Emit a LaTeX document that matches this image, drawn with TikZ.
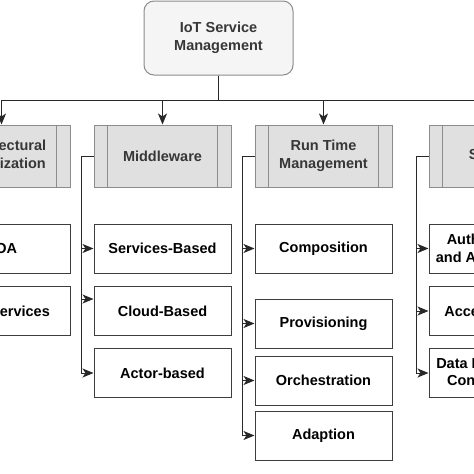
\documentclass[tikz,border=0pt]{standalone}
\usepackage{fontspec}
\setmainfont{Liberation Sans}
\usepackage{tikz}
\usetikzlibrary{arrows.meta, positioning}
\usepackage{xcolor}
\definecolor{rootgray}{RGB}{245,245,245}
\definecolor{catgray}{RGB}{224,224,224}
\definecolor{framegray}{RGB}{140,140,140}
\definecolor{textgray}{RGB}{55,55,55}
\definecolor{linegray}{RGB}{40,40,40}
\tikzset{rootnode/.style={rectangle, rounded corners=10pt, fill=rootgray, draw=framegray, line width=1pt, minimum width=149pt, minimum height=74pt, align=center, text=textgray, font=\fontsize{14.5}{17.5}\selectfont\bfseries},catnode/.style={rectangle, fill=catgray, draw=framegray, line width=1pt, minimum width=137pt, minimum height=62pt, align=center, text=textgray, font=\fontsize{14.5}{17.5}\selectfont\bfseries}}
\tikzset{subnode/.style={rectangle, fill=white, draw=linegray!90, line width=1pt, minimum width=137pt, minimum height=49pt, align=center, text=black, font=\fontsize{14.5}{17.5}\selectfont\bfseries}}

\begin{document}
\begin{tikzpicture}[
        x=1pt, y=-1pt,
        edge/.style={draw=linegray, line width=1pt, -{Stealth[length=11pt, width=9pt, inset=3pt]}},
        link/.style={draw=linegray, line width=1pt}
    ]
        \clip (0,0) rectangle (474,474);
        % Root
        \node[rootnode] (root) at (218.5, 38) {IoT Service\\Management};
        % Categories
        \node[catnode] (arch) at (1.5, 156) {Architectural\\Organization};
        \node[catnode] (mw) at (162.5, 156) {Middleware};
        \node[catnode] (rt) at (323.5, 156) {Run Time\\Management};
        \node[catnode] (sec) at (497.5, 156) {Security};
        \foreach \n in {arch, mw, rt, sec} {
            \draw[framegray, line width=1pt] ([xshift=14pt]\n.north west) -- ([xshift=14pt]\n.south west);
            \draw[framegray, line width=1pt] ([xshift=-14pt]\n.north east) -- ([xshift=-14pt]\n.south east);
        }
        % Sub-categories
        \node[subnode] (soa) at (1.5, 248.5) {SOA};
        \node[subnode] (micro) at (1.5, 311) {Microservices};
        \node[subnode] (servb) at (162.5, 248.5) {Services-Based};
        \node[subnode] (cloudb) at (162.5, 311) {Cloud-Based};
        \node[subnode] (actorb) at (162.5, 373) {Actor-based};
        \node[subnode] (compo) at (323.5, 248.5) {Composition};
        \node[subnode] (provi) at (323.5, 323.5) {Provisioning};
        \node[subnode] (orche) at (323.5, 380.5) {Orchestration};
        \node[subnode] (adapt) at (323.5, 435.5) {Adaption};
        \node[subnode] (authn) at (497.5, 248.5) {Authentication\\and Authorization};
        \node[subnode] (acces) at (497.5, 311) {Access Control};
        \node[subnode] (dataic) at (497.5, 373) {Data Integrity and\\Confidentiality};
        % Root to categories
        \foreach \n in {arch, mw, rt, sec} {
            \draw[edge] (root.south) -- ++(0, 25) -| (\n.north);
        }
        % Categories to sub-categories
        \foreach \c/\s in {arch/soa, arch/micro, mw/servb, mw/actorb, rt/compo, rt/provi, rt/orche, rt/adapt, sec/authn, sec/acces, sec/dataic} {
            \draw[edge] (\c.west) -- ++(-12, 0) |- (\s.west);
        }
        \draw[edge] (mw.west) -- ++(-12, 0) |- ([yshift=12pt]cloudb.west);
    \end{tikzpicture}
\end{document}
